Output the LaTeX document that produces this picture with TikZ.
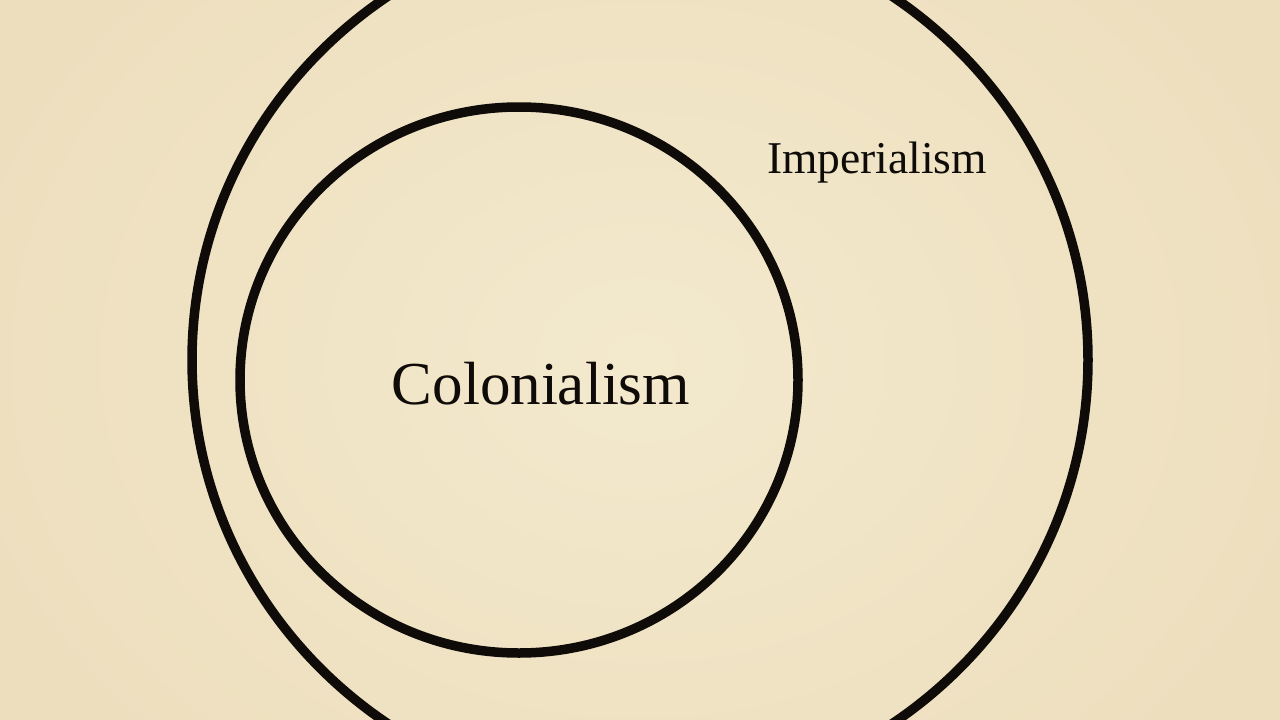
\documentclass[tikz,border=0pt]{standalone}
\usepackage{fontspec}
\setmainfont{Liberation Serif}
\definecolor{paper}{HTML}{F1E5C6}
\definecolor{paperlight}{HTML}{F3E9CD}
\definecolor{paperdark}{HTML}{ECDDBB}
\definecolor{ink}{HTML}{0E0B08}
\tikzset{
  ring/.style={draw=ink, line width=9.5pt},
  biglabel/.style={text=ink, anchor=base, inner sep=0pt, font=\fontsize{61}{61}\selectfont},
  smalllabel/.style={text=ink, anchor=base, inner sep=0pt, font=\fontsize{45.5}{45.5}\selectfont}
}
\begin{document}
\begin{tikzpicture}[x=1pt,y=-1pt]
\useasboundingbox (0,0) rectangle (1280,720);
\clip (0,0) rectangle (1280,720);
\shade[inner color=paperlight, outer color=paperdark] (-200,-300) rectangle (1480,1020);
\draw[ring] (640,360) ellipse [x radius=448, y radius=440];
\draw[ring] (519,380) ellipse [x radius=279, y radius=273];
\node[biglabel] (col) at (541,404) {Colonialism};
\node[smalllabel] (imp) at (877,173) {Imperialism};
\end{tikzpicture}
\end{document}
